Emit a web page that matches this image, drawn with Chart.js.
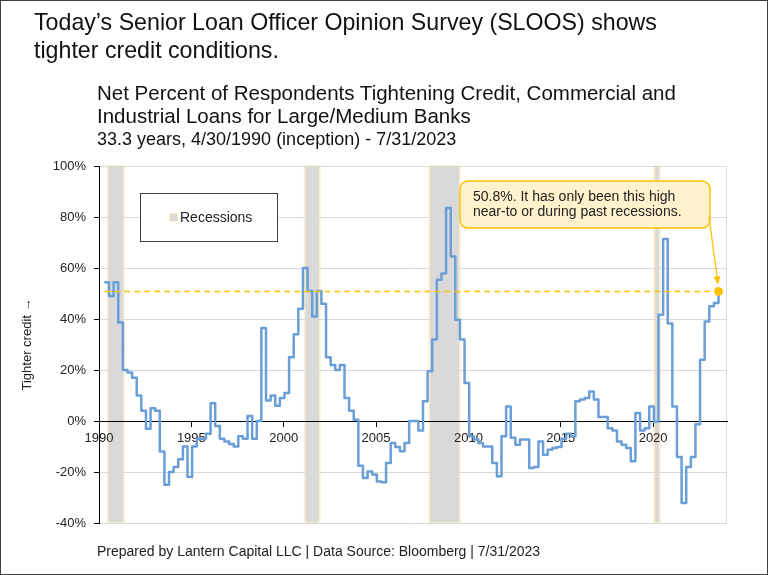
<!DOCTYPE html>
<html><head><meta charset="utf-8">
<script src="https://cdn.jsdelivr.net/npm/chart.js@4.4.1/dist/chart.umd.min.js"></script>
<style>
html,body{margin:0;padding:0;background:#fff;}
#wrap{position:relative;width:768px;height:575px;overflow:hidden;font-family:"Liberation Sans",Arial,sans-serif;color:#111;background:#fff;}
canvas{position:absolute;left:0;top:0;}
.t{position:absolute;white-space:nowrap;line-height:1;}
#frame{position:absolute;left:0;top:0;width:768px;height:575px;box-sizing:border-box;border:1px solid #404040;pointer-events:none;}
</style></head><body>
<div id="wrap">
<canvas id="c" width="768" height="575"></canvas>
<div class="t" style="left:34px;top:11px;font-size:23.2px">Today’s Senior Loan Officer Opinion Survey (SLOOS) shows</div>
<div class="t" style="left:34px;top:39px;font-size:23.2px">tighter credit conditions.</div>
<div class="t" style="left:97px;top:83px;font-size:20.5px">Net Percent of Respondents Tightening Credit, Commercial and</div>
<div class="t" style="left:97px;top:106px;font-size:20.5px">Industrial Loans for Large/Medium Banks</div>
<div class="t" style="left:97px;top:130px;font-size:18px">33.3 years, 4/30/1990 (inception) - 7/31/2023</div>
<div class="t" style="left:97px;top:544px;font-size:14px;color:#222">Prepared by Lantern Capital LLC | Data Source: Bloomberg | 7/31/2023</div>
<div id="frame"></div>
</div>
<script>
// ---- data ----
const firstSurvey = '1990-04';           // first quarterly survey (month)
const netTightening = [                   // % net tightening, quarterly Apr 1990 .. Jul 2023
  54.4, 49, 54.4,
  38.6, 20, 19, 17,
  10, 4, -3, 5,
  4, -12, -25, -20,
  -18, -15, -10, -22,
  -10, -7, -7, -5,
  7, -2, -7, -8,
  -9, -10, -6, -7,
  2, -7, 0, 36.5,
  8, 10, 6, 9,
  11, 25, 34, 44,
  60, 51, 41, 51,
  46, 25, 22, 20,
  22, 9, 4, 0.5,
  -17.5, -22.4, -19.8, -21,
  -23.7, -24, -16.5, -8.6,
  -10.2, -11.9, -8.6, 0,
  0, -3.7, 7.7, 19.5,
  32, 55.4, 57.8, 83.5,
  64.5, 39.7, 32, 14.9,
  -6, -7.3, -8.6, -10,
  -10, -16.5, -21.7, -6,
  5.7, -6.6, -9.3, -7.3,
  -7.3, -18.4, -18, -8,
  -13.2, -11.3, -10.6, -10.2,
  -7, -5, -6, 7.7,
  8.4, 9, 11.6, 8.4,
  1.6, 1.6, -2.8, -3.7,
  -8, -9.3, -10.6, -15.8,
  3.1, -3.7, -2.8, 5.7,
  -0.3, 41.7, 71.4, 38.2,
  5.7, -14.1, -32.2, -18,
  -14.1, -1.3, 24, 39,
  45, 46.3, 50.8
];
const recessionStarts = ['1990-07', '2001-03', '2007-12', '2020-02'];
const recessionEnds   = ['1991-04', '2001-11', '2009-06', '2020-04'];
const xTickYears = [1990, 1995, 2000, 2005, 2010, 2015, 2020];
const yTickValues = [-40, -20, 0, 20, 40, 60, 80, 100];
const annotationLines = ['50.8%. It has only been this high', 'near-to or during past recessions.'];
const legendLabel = 'Recessions';

// ---- helpers ----
const FONT = '"Liberation Sans", Arial, sans-serif';
function monthEnd(ym){ const [y,m]=ym.split('-').map(Number); return y + m/12; }
function monthMid(ym){ const [y,m]=ym.split('-').map(Number); return y + (m-0.5)/12; }
function monthStart(ym){ const [y,m]=ym.split('-').map(Number); return y + (m-1)/12; }
const surveyDates = netTightening.map((_, i) => {
  const [y0, m0] = firstSurvey.split('-').map(Number);
  const idx = (m0 - 1) + 3 * i;
  return (y0 + Math.floor(idx / 12)) + '-' + String(idx % 12 + 1).padStart(2, '0');
});
const xs = surveyDates.map(monthMid);
const lastIdx = netTightening.length - 1;
const lastVal = netTightening[lastIdx];

const bandsPlugin = {
  id: 'bands',
  beforeDraw(chart){
    const {ctx, chartArea:a, scales:{x}} = chart;
    ctx.save();
    ctx.fillStyle = '#fff';
    ctx.fillRect(0,0,chart.width,chart.height);
    recessionStarts.forEach((s,i) => {
      const x1 = x.getPixelForValue(monthStart(s));
      const x2 = x.getPixelForValue(monthEnd(recessionEnds[i]));
      ctx.fillStyle = '#D9D9D9';
      ctx.fillRect(x1, a.top, x2 - x1, a.bottom - a.top);
      ctx.strokeStyle = '#FCEFCB';
      ctx.lineWidth = 1.5;
      ctx.strokeRect(x1 - 0.75, a.top, x2 - x1 + 1.5, a.bottom - a.top);
    });
    ctx.strokeStyle = '#D9D9D9';
    ctx.lineWidth = 1;
    ctx.beginPath();
    ctx.moveTo(Math.round(a.right) - 0.5, a.top);
    ctx.lineTo(Math.round(a.right) - 0.5, a.bottom);
    ctx.stroke();
    ctx.restore();
  },
  afterDraw(chart){
    const {ctx, scales:{x, y}} = chart;
    ctx.save();
    // legend box
    ctx.fillStyle = '#fff';
    ctx.fillRect(140.5, 193.5, 137, 48);
    ctx.strokeStyle = '#404040';
    ctx.lineWidth = 1;
    ctx.strokeRect(140.5, 193.5, 137, 48);
    ctx.fillStyle = '#D9D9D9';
    ctx.fillRect(170, 214, 7, 7);
    ctx.strokeStyle = '#FCEFCB';
    ctx.strokeRect(169.5, 213.5, 8, 8);
    ctx.fillStyle = '#222';
    ctx.font = '14px ' + FONT;
    ctx.textBaseline = 'middle';
    ctx.textAlign = 'left';
    ctx.fillText(legendLabel, 180, 218);

    // annotation box
    const bx = 460, by = 181, bw = 250, bh = 47, r = 8;
    ctx.beginPath();
    ctx.moveTo(bx + r, by);
    ctx.arcTo(bx + bw, by, bx + bw, by + bh, r);
    ctx.arcTo(bx + bw, by + bh, bx, by + bh, r);
    ctx.arcTo(bx, by + bh, bx, by, r);
    ctx.arcTo(bx, by, bx + bw, by, r);
    ctx.closePath();
    ctx.fillStyle = '#FFF2CC';
    ctx.fill();
    ctx.strokeStyle = '#FFC000';
    ctx.lineWidth = 1.5;
    ctx.stroke();
    ctx.fillStyle = '#222';
    ctx.font = '14px ' + FONT;
    ctx.textBaseline = 'alphabetic';
    ctx.fillText(annotationLines[0], 473, 200.5);
    ctx.fillText(annotationLines[1], 473, 215.5);

    // arrow to last point
    const px = x.getPixelForValue(xs[lastIdx]);
    const py = y.getPixelForValue(lastVal);
    const sx = bx + bw - 1, sy = by + 36;
    const tx = px - 0.5, ty = py - 7;
    const ang = Math.atan2(ty - sy, tx - sx);
    ctx.strokeStyle = '#FFC000';
    ctx.fillStyle = '#FFC000';
    ctx.lineWidth = 1.3;
    ctx.beginPath();
    ctx.moveTo(sx, sy);
    ctx.lineTo(tx - 6 * Math.cos(ang), ty - 6 * Math.sin(ang));
    ctx.stroke();
    ctx.beginPath();
    ctx.moveTo(tx, ty);
    ctx.lineTo(tx - 8 * Math.cos(ang) + 3.5 * Math.sin(ang), ty - 8 * Math.sin(ang) - 3.5 * Math.cos(ang));
    ctx.lineTo(tx - 8 * Math.cos(ang) - 3.5 * Math.sin(ang), ty - 8 * Math.sin(ang) + 3.5 * Math.cos(ang));
    ctx.closePath();
    ctx.fill();
    ctx.restore();
  }
};

new Chart(document.getElementById('c'), {
  type: 'line',
  data: {
    datasets: [
      {
        label: 'Latest',
        data: [{x: xs[lastIdx], y: lastVal}],
        showLine: false,
        pointRadius: 4,
        pointBackgroundColor: '#FFC000',
        pointBorderColor: '#FFC000',
        order: 0
      },
      {
        label: 'Latest level',
        data: [{x: xs[0], y: lastVal}, {x: xs[lastIdx], y: lastVal}],
        borderColor: '#FFC000',
        borderWidth: 1.5,
        borderDash: [6, 4],
        pointRadius: 0,
        order: 1
      },
      {
        label: 'Net % tightening',
        data: xs.map((v, i) => ({x: v, y: netTightening[i]})),
        borderColor: '#6A9ED6',
        borderWidth: 2.5,
        pointRadius: 0,
        stepped: true,
        borderJoinStyle: 'round',
        order: 2
      }
    ]
  },
  options: {
    responsive: false,
    animation: false,
    devicePixelRatio: 1,
    layout: {padding: {left: 20, right: 41, top: 166, bottom: 52}},
    plugins: {legend: {display: false}, tooltip: {enabled: false}, title: {display: false}},
    scales: {
      x: {
        type: 'linear', min: 1990, max: 2024,
        position: {y: 0},
        afterFit(s){ s.height = 0; },
        afterBuildTicks(s){ s.ticks = xTickYears.map(v => ({value: v})); },
        border: {color: '#000', width: 1},
        grid: {drawOnChartArea: false, drawTicks: true, tickLength: 5, tickColor: '#000'},
        ticks: {autoSkip: false, maxRotation: 0, padding: 5, color: '#222', font: {size: 13, family: FONT}, callback: v => String(v)}
      },
      y: {
        min: -40, max: 100,
        position: 'left',
        afterFit(s){ s.width = 79; },
        afterBuildTicks(s){ s.ticks = yTickValues.map(v => ({value: v})); },
        border: {color: '#000', width: 1},
        grid: {color: c => (c.tick && c.tick.value === 0) ? 'rgba(0,0,0,0)' : '#D9D9D9', tickColor: '#000', tickLength: 5},
        ticks: {padding: 8, color: '#222', font: {size: 13, family: FONT}, callback: v => v + '%'},
        title: {display: true, text: 'Tighter credit →', color: '#222', font: {size: 13, family: FONT}, padding: {top: 0, bottom: 0}}
      }
    }
  },
  plugins: [bandsPlugin]
});
</script>
</body></html>
